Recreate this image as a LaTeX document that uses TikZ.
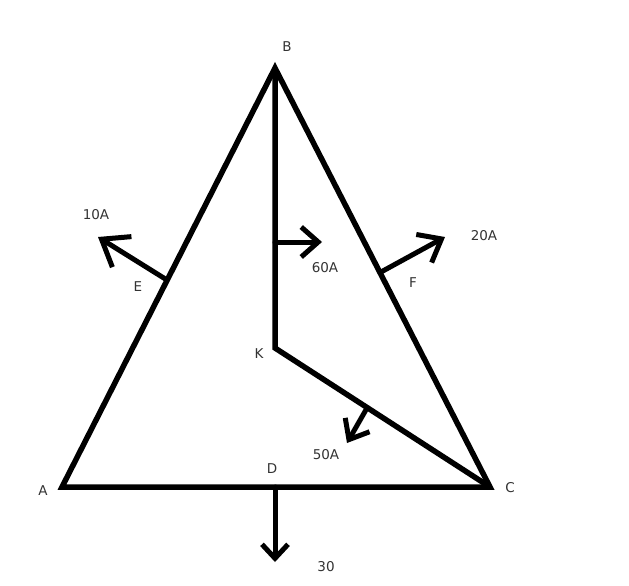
\documentclass[tikz,border=0pt]{standalone}
\usepackage{fontspec}
\setmainfont{DejaVu Sans}
\usetikzlibrary{arrows.meta}
\begin{document}
\begin{tikzpicture}[x=1pt,y=-1pt,
  edge/.style={line width=5.5pt,line join=miter},
  force/.style={line width=5pt,line cap=round,line join=round},
  lbl/.style={font=\fontsize{13.5}{15}\selectfont,inner sep=0pt,text=black!80}]
\useasboundingbox (0,0) rectangle (629,586);
\fill[white] (0,0) rectangle (629,586);
% points
\coordinate (A) at (62,487);
\coordinate (B) at (275,68);
\coordinate (C) at (490,487);
\coordinate (K) at (275,348);
\coordinate (D) at (275,487);
\coordinate (E) at (167,280);
\coordinate (F) at (381,272);
\coordinate (G) at (275,242);
\coordinate (M) at (367,408);
% tips
\coordinate (tE) at (98,237);
\coordinate (tF) at (445,237);
\coordinate (tG) at (322,242);
\coordinate (tM) at (347,443);
\coordinate (tD) at (275,562);
% structure
\draw[edge] (A) -- (B) -- (C) -- cycle;
\draw[edge] (B) -- (K) -- (C);
% forces
\draw[force,-{Straight Barb[length=24pt,width=36pt]}] (E) -- (tE);
\draw[force,-{Straight Barb[length=20pt,width=32pt]}] (F) -- (tF);
\draw[force,-{Straight Barb[length=17pt,width=30pt]}] (G) -- (tG);
\draw[force,-{Straight Barb[length=17pt,width=28pt]}] (M) -- (tM);
\draw[force,-{Straight Barb[length=14pt,width=26pt]}] (D) -- (tD);
% labels
\node[lbl] (lB) at (287,47) {B};
\node[lbl] (lA) at (43,491) {A};
\node[lbl] (lC) at (510,488) {C};
\node[lbl] (lD) at (272,469) {D};
\node[lbl] (lE) at (138,287) {E};
\node[lbl] (lF) at (413,283) {F};
\node[lbl] (lK) at (259,354) {K};
\node[lbl] (l10) at (96,215) {10A};
\node[lbl] (l60) at (325,268) {60A};
\node[lbl] (l20) at (484,236) {20A};
\node[lbl] (l50) at (326,455) {50A};
\node[lbl] (l30) at (326,567) {30};
\end{tikzpicture}
\end{document}
